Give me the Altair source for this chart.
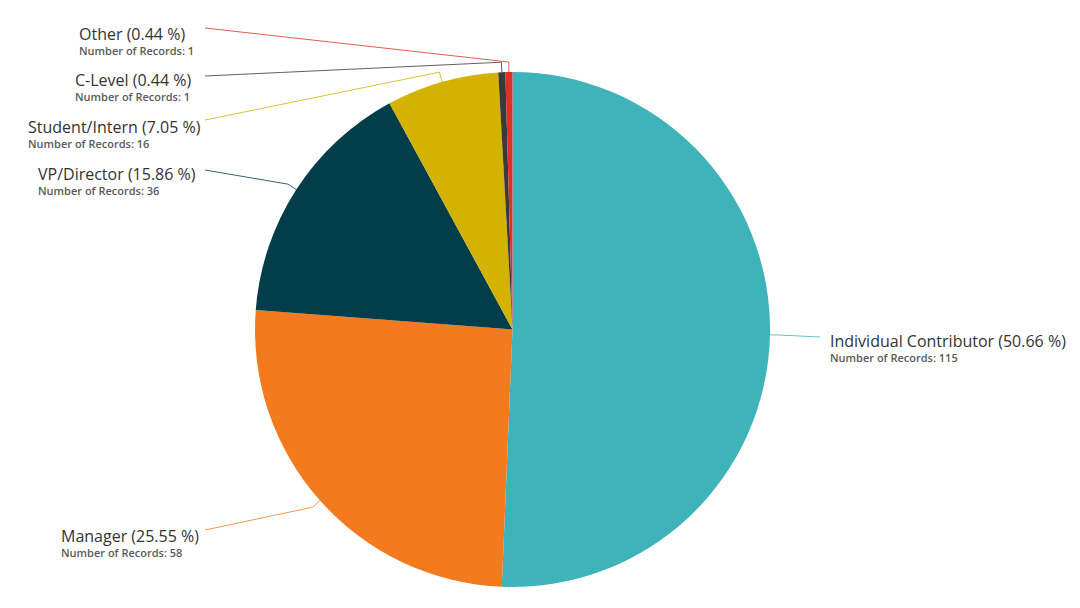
import math
import altair as alt
import pandas as pd

# ---- data ----
categories = ["Individual Contributor", "Manager", "VP/Director",
              "Student/Intern", "C-Level", "Other"]
records = [115, 58, 36, 16, 1, 1]
colors = ["#3FB3BA", "#F47A1F", "#013E4A", "#D4B200", "#3A3A3A", "#DD3127"]

# ---- label layout (page pixels) ----
label_left = [830, 61, 38, 28, 75, 79]
title_y = [342, 537, 175, 128, 81, 35]
line_end_x = [820, 205, 205, 205, 205, 205]
line_end_y = [337, 530, 170, 120, 76, 28]

M = 8  # page margin
CX, CY, R = 512.5 - M, 329.5 - M, 257.5

total = sum(records)
rows, line_rows = [], []
cum = 0
for i, (c, v) in enumerate(zip(categories, records)):
    pct = v / total * 100
    mid = (cum + v / 2) / total * 2 * math.pi
    cum += v
    rows.append({
        "idx": i, "category": c, "records": v,
        "title": f"{c} ({pct:.2f} %)",
        "sub": f"Number of Records: {v}",
        "lx": label_left[i] - M,
        "ty": title_y[i] - M,
        "sy": title_y[i] + 17 - M,
    })
    for step, r in enumerate([R, R + 10]):
        line_rows.append({"category": c, "step": step,
                          "px": CX + r * math.sin(mid),
                          "py": CY - r * math.cos(mid)})
    line_rows.append({"category": c, "step": 2,
                      "px": line_end_x[i] - M, "py": line_end_y[i] - M})

df = pd.DataFrame(rows)
ldf = pd.DataFrame(line_rows)

color = alt.Color("category:N", scale=alt.Scale(domain=categories, range=colors),
                  legend=None)

pie = alt.Chart(df).mark_arc(radius=R).encode(
    theta=alt.Theta("records:Q", stack=True),
    color=color,
    order=alt.Order("idx:Q"),
    x=alt.value(CX),
    y=alt.value(CY),
)

lines = alt.Chart(ldf).mark_line(strokeWidth=1, opacity=0.8).encode(
    x=alt.X("px:Q", scale=None, axis=None),
    y=alt.Y("py:Q", scale=None, axis=None),
    detail="category:N",
    color=color,
    order="step:Q",
)

titles = alt.Chart(df).mark_text(align="left", baseline="middle", font="Open Sans",
                                 fontSize=16, color="#333333").encode(
    x=alt.X("lx:Q", scale=None, axis=None),
    y=alt.Y("ty:Q", scale=None, axis=None),
    text="title:N",
)

subs = alt.Chart(df).mark_text(align="left", baseline="middle", font="Open Sans",
                               fontSize=11, fontWeight=600,
                               color="#5a5a5a").encode(
    x=alt.X("lx:Q", scale=None, axis=None),
    y=alt.Y("sy:Q", scale=None, axis=None),
    text="sub:N",
)

chart = alt.layer(pie, lines, titles, subs).properties(
    width=1064, height=592, padding=0, autosize="none", background="white"
).configure_view(stroke=None)

chart.save("out.html", embed_options={"renderer": "svg", "actions": False})
